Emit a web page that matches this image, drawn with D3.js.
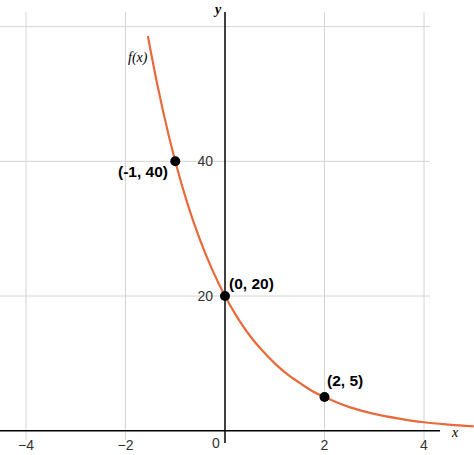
<!DOCTYPE html><html><head><meta charset="utf-8"><script src="https://d3js.org/d3.v7.min.js"></script>
<style>body{margin:0;background:#fff}</style></head><body><svg id="c" width="474" height="455"></svg>
<script>
const xTicks=[-4,-2,2,4];
const yTicks=[20,40];
const gridY=[20,40,60];
const curveX=[-1.55,-1.5,-1.25,-1,-0.75,-0.5,-0.25,0,0.25,0.5,0.75,1,1.25,1.5,1.75,2,2.5,3,3.5,4,4.5,5];
const curveY=[58.6,56.6,47.6,40,33.6,28.3,23.8,20,16.8,14.1,11.9,10,8.4,7.1,5.9,5,3.5,2.5,1.8,1.25,0.9,0.63];
const pts=[{x:-1,y:40,l:"(-1, 40)"},{x:0,y:20,l:"(0, 20)"},{x:2,y:5,l:"(2, 5)"}];
const svg=d3.select("#c");
const x=d3.scaleLinear().domain([0,2]).range([225,324.5]);
const y=d3.scaleLinear().domain([0,20]).range([430.7,296]);
const g=svg.append("g");
xTicks.forEach(v=>g.append("line").attr("x1",x(v)).attr("x2",x(v)).attr("y1",12).attr("y2",440).attr("stroke","#d4d4d4"));
gridY.forEach(v=>g.append("line").attr("x1",0).attr("x2",430).attr("y1",y(v)).attr("y2",y(v)).attr("stroke","#d4d4d4"));
svg.append("line").attr("x1",0).attr("x2",440).attr("y1",y(0)).attr("y2",y(0)).attr("stroke","#000").attr("stroke-width",1.5);
svg.append("line").attr("x1",x(0)).attr("x2",x(0)).attr("y1",12).attr("y2",443).attr("stroke","#000").attr("stroke-width",1.5);
const tf="Liberation Sans, Arial, sans-serif";
xTicks.forEach(v=>svg.append("text").attr("x",x(v)).attr("y",450).attr("text-anchor","middle").attr("font-family",tf).attr("font-size",14).attr("fill","#333").text(v<0?"\u2212"+(-v):v));
svg.append("text").attr("x",216).attr("y",448).attr("text-anchor","middle").attr("font-family",tf).attr("font-size",14).attr("fill","#333").text("0");
yTicks.forEach(v=>svg.append("text").attr("x",213).attr("y",y(v)+5).attr("text-anchor","end").attr("font-family",tf).attr("font-size",14).attr("fill","#333").text(v));
svg.append("text").attr("x",452).attr("y",437).attr("font-family","Liberation Serif, serif").attr("font-style","italic").attr("font-size",14).text("x");
svg.append("text").attr("x",215).attr("y",14).attr("font-family","Liberation Serif, serif").attr("font-style","italic").attr("font-weight","bold").attr("font-size",14).text("y");
svg.append("defs").append("clipPath").attr("id","cp").append("rect").attr("x",0).attr("y",y(60)).attr("width",474).attr("height",455);
const data=curveX.map((v,i)=>[v,curveY[i]]);
svg.append("path").attr("clip-path","url(#cp)").attr("d",d3.line().x(d=>x(d[0])).y(d=>y(d[1])).curve(d3.curveMonotoneX)(data)).attr("fill","none").attr("stroke","#e8693a").attr("stroke-width",2.2);
svg.append("text").attr("x",128).attr("y",62).attr("font-family","Liberation Serif, serif").attr("font-style","italic").attr("font-size",14).text("f(x)");
pts.forEach(p=>svg.append("circle").attr("cx",x(p.x)).attr("cy",y(p.y)).attr("r",5).attr("fill","#000"));
const lf={"-1":[118,177],"0":[229,289],"2":[327,386]};
pts.forEach(p=>svg.append("text").attr("x",lf[p.x][0]).attr("y",lf[p.x][1]).attr("font-family",tf).attr("font-weight","bold").attr("font-size",15.5).text(p.l));
</script></body></html>
